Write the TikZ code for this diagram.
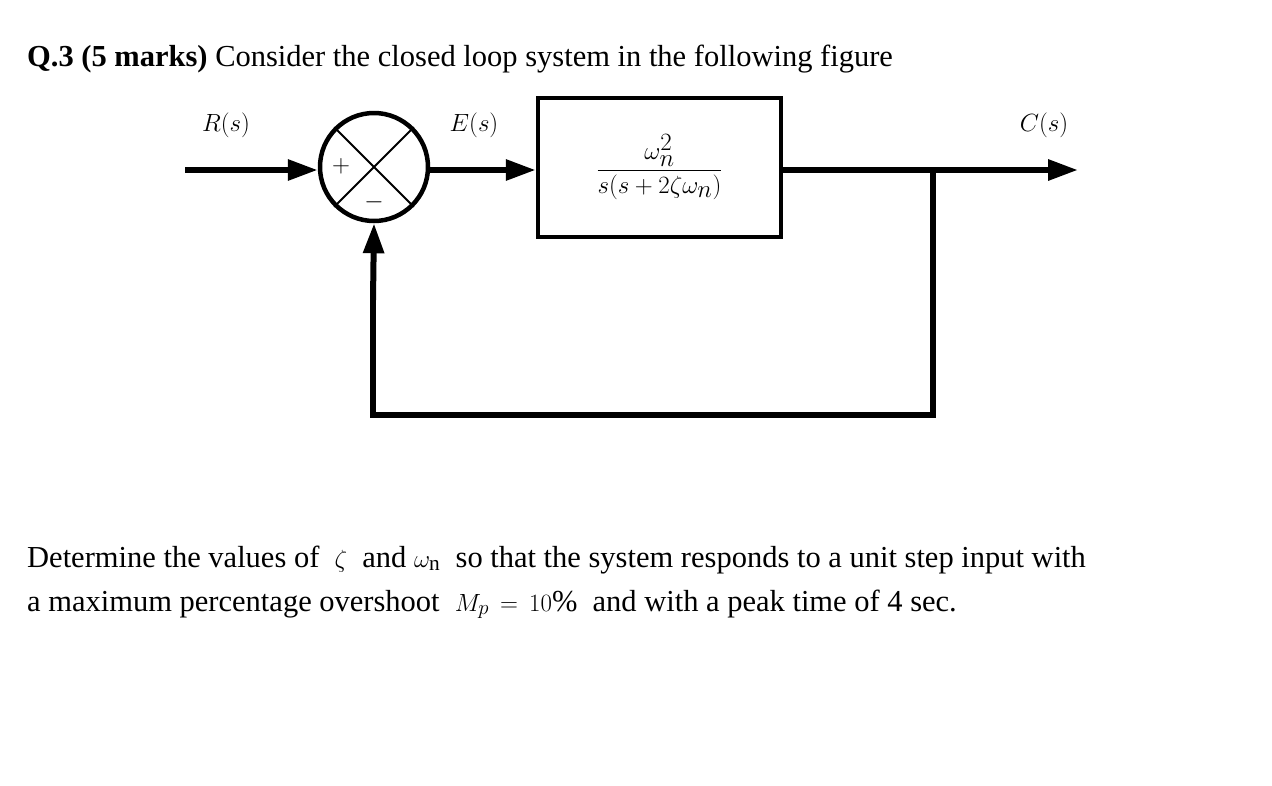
\documentclass[tikz,border=0pt]{standalone}
\usepackage{amsmath}
\usepackage{fontspec}
\setmainfont{Liberation Serif}
\usetikzlibrary{arrows.meta}
\begin{document}
\begin{tikzpicture}[x=1pt,y=-1pt,
  sig/.style={line width=6pt,-{Triangle[length=30pt,width=20pt]}},
  ln/.style={line width=6pt},
  lbl/.style={font=\fontsize{34}{40}\selectfont},
  txt/.style={anchor=west,inner sep=0,font=\fontsize{30.5}{36}\selectfont}]
\useasboundingbox (0,0) rectangle (1272,785);
\node[txt,anchor=base west] (q) at (27,66) {\textbf{Q.3 (5 marks)} Consider the closed loop system in the following figure};
\node[draw,circle,line width=4.5pt,minimum size=108pt,inner sep=0] (sum) at (374,167) {};
\draw[line width=2pt] (sum.north west) -- (sum.south east) (sum.north east) -- (sum.south west);
\node[font=\fontsize{30}{30}\selectfont] (plus) at (341,166) {$+$};
\node[font=\fontsize{30}{30}\selectfont] (minus) at (374,202) {$-$};
\node[draw,line width=4.5pt,minimum width=243pt,minimum height=139pt,inner sep=0] (G) at (659.5,167.5) {};
\node[font=\fontsize{36}{40}\selectfont] (Gt) at (659.5,167.5) {$\dfrac{\omega_n^2}{s(s+2\zeta\omega_n)}$};
\coordinate (in) at (185,170);
\coordinate (out) at (1078,170);
\coordinate (br) at (933,170);
\coordinate (c1) at (933,415);
\coordinate (c2) at (373,415);
\draw[sig] (in) -- (sum.west |- in);
\draw[sig] (sum.east |- in) -- (G.west |- in);
\draw[sig] (G.east |- in) -- (out);
\draw[ln] (br) -- (c1) -- (c2) -- (373,300);
\draw[sig] (373,300) -- (sum.south);
\node[lbl] (R) at (226,125) {$R(s)$};
\node[lbl] (E) at (474,125) {$E(s)$};
\node[lbl] (C) at (1044,125) {$C(s)$};
\node[txt,anchor=base west] (t1) at (27,567) {Determine the values of \ $\zeta$ \ and $\omega_{\mathrm{n}}$ \ so that the system responds to a unit step input with};
\node[txt,anchor=base west] (t2) at (27,611) {a maximum percentage overshoot \ $M_p\,=\,10\%$ \ and with a peak time of 4 sec.};
\end{tikzpicture}
\end{document}
